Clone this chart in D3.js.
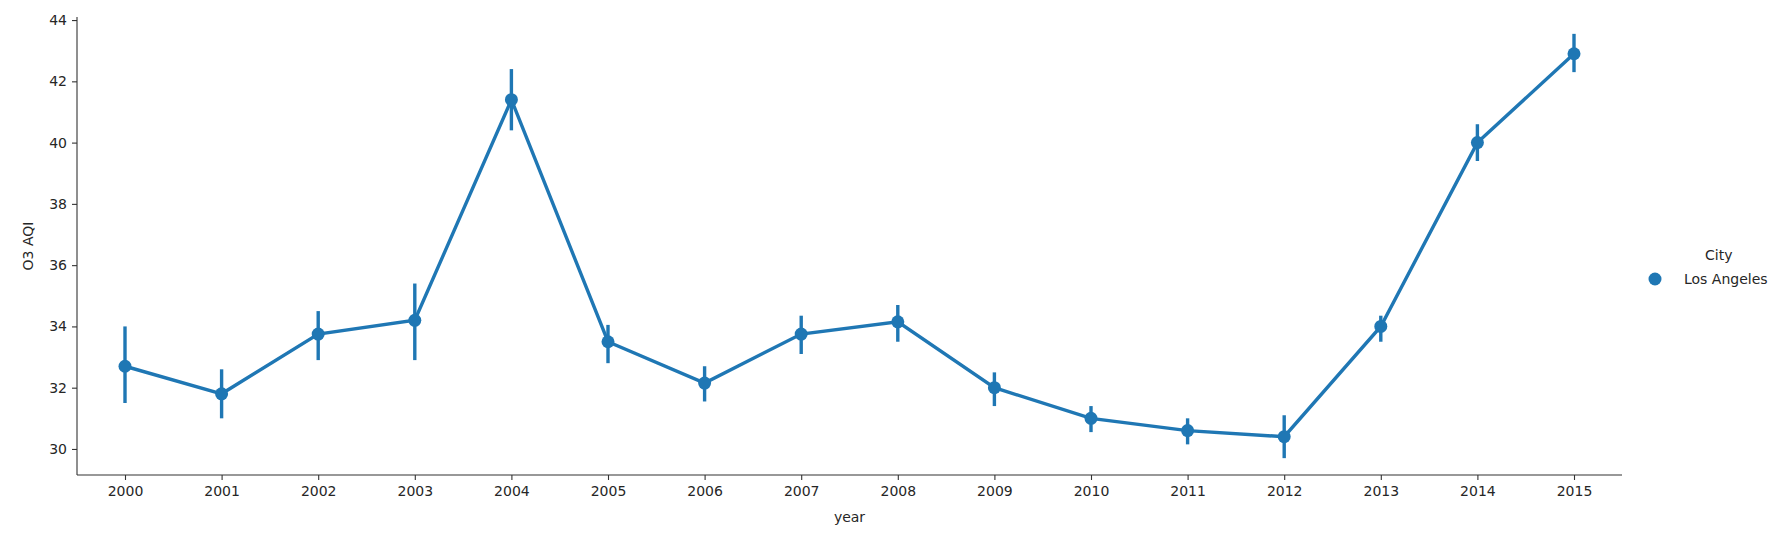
<!DOCTYPE html>
<html><head><meta charset="utf-8">
<script src="https://cdn.jsdelivr.net/npm/d3@7"></script>
<style>body{margin:0;background:#fff}text{font-family:"DejaVu Sans",sans-serif;fill:#262626}</style>
</head><body><svg id="c" width="1782" height="546"></svg>
<script>
const years=["2000","2001","2002","2003","2004","2005","2006","2007","2008","2009","2010","2011","2012","2013","2014","2015"];
const means=[32.7,31.8,33.75,34.2,41.4,33.5,32.15,33.75,34.15,32.0,31.0,30.6,30.4,34.0,40.0,42.9];
const lows=[31.5,31.0,32.9,32.9,40.4,32.8,31.55,33.1,33.5,31.4,30.55,30.15,29.7,33.5,39.4,42.3];
const highs=[34.0,32.6,34.5,35.4,42.4,34.05,32.7,34.35,34.7,32.5,31.4,31.0,31.1,34.35,40.6,43.55];
const yTicks=[30,32,34,36,38,40,42,44];
const color="#1f77b4";
const svg=d3.select("#c");
const L=77,R=1622,T=17,B=475;
const x=d3.scalePoint().domain(years).range([125,1574]);
const y=d3.scaleLinear().domain([29.15,44.1]).range([B,T]);
const xa=svg.append("g").attr("transform",`translate(0,${B})`).call(d3.axisBottom(x).tickSize(5).tickPadding(6));
xa.select(".domain").attr("d",`M${L},0H${R}`);
const ya=svg.append("g").attr("transform",`translate(${L},0)`).call(d3.axisLeft(y).tickValues(yTicks).tickSize(5).tickPadding(5));
ya.select(".domain").attr("d",`M0,${T}V${B}`);
svg.selectAll(".tick text").attr("font-size",14).style("font-family","DejaVu Sans");
svg.selectAll(".domain,.tick line").attr("stroke","#333").attr("stroke-width",1.1);
svg.append("text").attr("x",(L+R)/2).attr("y",B+47).attr("text-anchor","middle").attr("font-size",14).text("year");
svg.append("text").attr("transform",`translate(33,${(T+B)/2}) rotate(-90)`).attr("text-anchor","middle").attr("font-size",14).text("O3 AQI");
svg.selectAll(".eb").data(years).join("line").attr("x1",d=>x(d)).attr("x2",d=>x(d))
 .attr("y1",(d,i)=>y(lows[i])).attr("y2",(d,i)=>y(highs[i])).attr("stroke",color).attr("stroke-width",3.4);
svg.append("path").datum(years).attr("fill","none").attr("stroke",color).attr("stroke-width",3.4)
 .attr("d",d3.line().x(d=>x(d)).y((d,i)=>y(means[i])));
svg.selectAll(".pt").data(years).join("circle").attr("cx",d=>x(d)).attr("cy",(d,i)=>y(means[i])).attr("r",6.5).attr("fill",color);
svg.append("text").attr("x",1705).attr("y",260).attr("font-size",14).text("City");
svg.append("circle").attr("cx",1655).attr("cy",279).attr("r",6.5).attr("fill",color);
svg.append("text").attr("x",1684).attr("y",284).attr("font-size",14).text("Los Angeles");
</script></body></html>
